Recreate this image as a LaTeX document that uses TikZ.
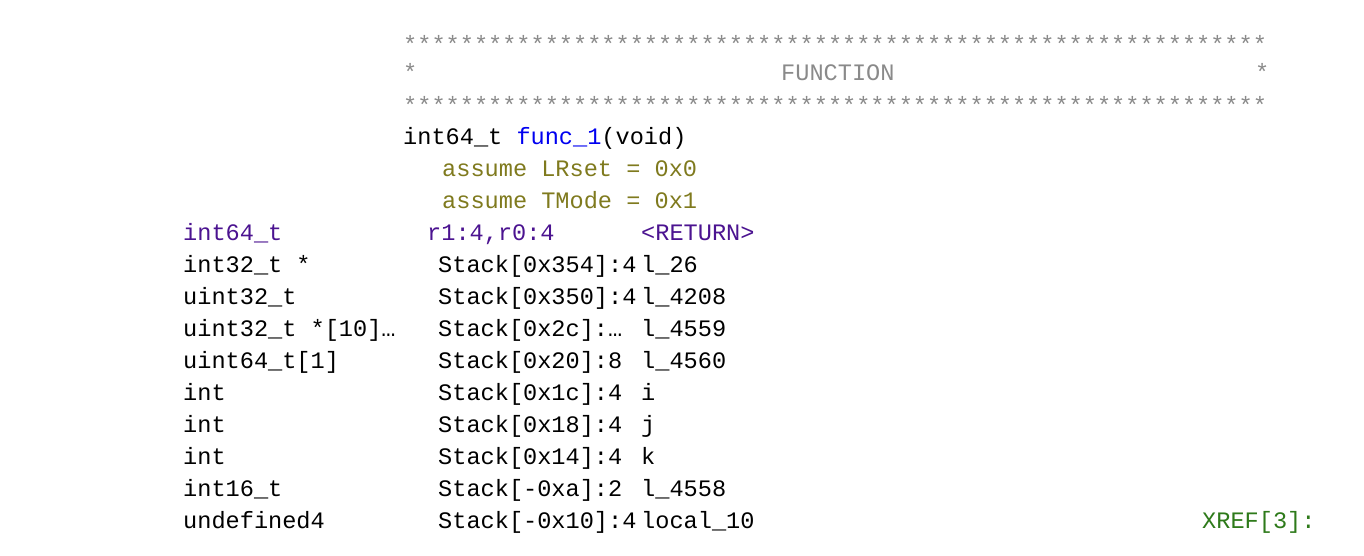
\documentclass[tikz,border=0pt]{standalone}
\usepackage{fontspec}
\setmonofont{Liberation Mono}
\definecolor{cgray}{HTML}{8A8A8A}
\definecolor{cblue}{HTML}{0000F0}
\definecolor{colive}{HTML}{7F7A1E}
\definecolor{cpurple}{HTML}{4B1390}
\definecolor{cgreen}{HTML}{2E7A1A}
\begin{document}
\begin{tikzpicture}[x=1pt,y=1pt,
  t/.style={anchor=base west,inner sep=0pt,font=\fontsize{23.6}{24}\selectfont\ttfamily}]
\useasboundingbox (0,0) rectangle (1364,556);
\def\Y#1{556-(#1)-8}
\node[t,cgray] (s1) at (403,{\Y{45}}) {*************************************************************};
\node[t,cgray] (s2) at (403,{\Y{73}}) {*};
\node[t,cgray] (fn) at (781,{\Y{73}}) {FUNCTION};
\node[t,cgray] (s3) at (1255,{\Y{73}}) {*};
\node[t,cgray] (s4) at (403,{\Y{106}}) {*************************************************************};
\node[t] (sig) at (403,{\Y{137}}) {int64\_t \textcolor{cblue}{func\_1}(void)};
\node[t,colive] (a1) at (442,{\Y{169}}) {assume LRset = 0x0};
\node[t,colive] (a2) at (442,{\Y{201}}) {assume TMode = 0x1};
\node[t,cpurple] (rt) at (183,{\Y{233}}) {int64\_t};
\node[t,cpurple] (rs) at (427,{\Y{233}}) {r1:4,r0:4};
\node[t,cpurple] (rn) at (641,{\Y{233}}) {<RETURN>};
\foreach \ty/\st/\nm [count=\i] in {
  {int32\_t *}/{Stack[0x354]:4}/{l\_26},
  {uint32\_t}/{Stack[0x350]:4}/{l\_4208},
  {uint32\_t *[10]\ldots}/{Stack[0x2c]:\ldots}/{l\_4559},
  {uint64\_t[1]}/{Stack[0x20]:8}/{l\_4560},
  {int}/{Stack[0x1c]:4}/{i},
  {int}/{Stack[0x18]:4}/{j},
  {int}/{Stack[0x14]:4}/{k},
  {int16\_t}/{Stack[-0xa]:2}/{l\_4558},
  {undefined4}/{Stack[-0x10]:4}/{local\_10}}{
  \node[t] (ty\i) at (183,{\Y{233+32*\i}}) {\ty};
  \node[t] (st\i) at (438,{\Y{233+32*\i}}) {\st};
  \node[t] (nm\i) at (641,{\Y{233+32*\i}}) {\nm};
}
\node[t,cgreen] (xr) at (1202,{\Y{521}}) {XREF[3]:};
\end{tikzpicture}
\end{document}
